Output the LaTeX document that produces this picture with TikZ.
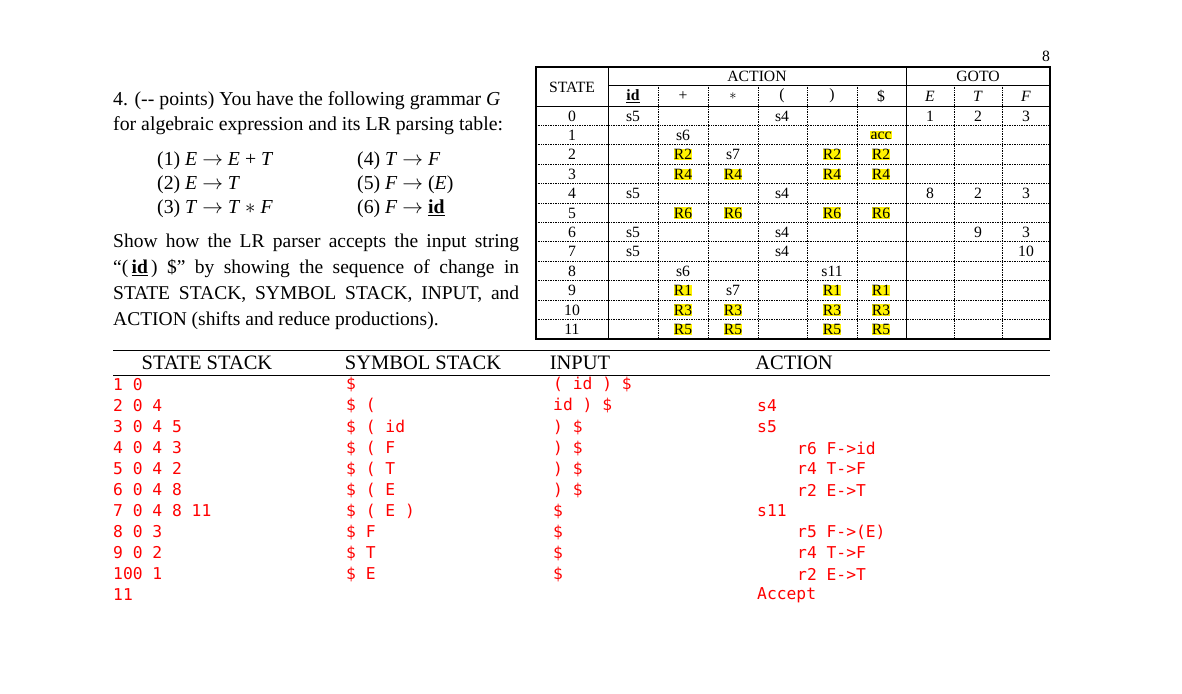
\documentclass[tikz,border=0pt]{standalone}
\usepackage{fontspec}
\setmainfont{Liberation Serif}
\setmonofont{DejaVu Sans Mono}
\begin{document}
\begin{tikzpicture}[x=1pt,y=-1pt,
  tt/.style={font=\fontsize{15.7}{17}\selectfont,inner sep=0.3pt},
  hl/.style={tt,fill=yellow},
  mono/.style={font=\ttfamily\fontsize{16.3}{19}\selectfont,text=red,anchor=west,inner sep=0},
  body/.style={font=\fontsize{19.8}{25}\selectfont,anchor=west,inner sep=0},
  hdr/.style={font=\fontsize{20.5}{22}\selectfont,inner sep=0},
  dl/.style={densely dotted,line width=0.7pt}]
\useasboundingbox (0,0) rectangle (1182,693);
\node[tt] (pg) at (1046,56) {8};
% paragraph
\node[body] (p1) at (113,101) {4. (-{}- points) You have the following grammar \textit{G}};
\node[body] (p2) at (113,126) {for algebraic expression and its LR parsing table:};
\node[body] (g1) at (157,161) {(1) \textit{E} $\rightarrow$ \textit{E} + \textit{T}};
\node[body] (g2) at (157,185) {(2) \textit{E} $\rightarrow$ \textit{T}};
\node[body] (g3) at (157,209) {(3) \textit{T} $\rightarrow$ \textit{T} $*$ \textit{F}};
\node[body] (g4) at (357,161) {(4) \textit{T} $\rightarrow$ \textit{F}};
\node[body] (g5) at (357,185) {(5) \textit{F} $\rightarrow$ (\textit{E})};
\node[body] (g6) at (357,209) {(6) \textit{F} $\rightarrow$ \underline{\textbf{id}}};
\node[body,anchor=north west] (p3) at (113,234) {\parbox{406pt}{\fontsize{19.5}{26}\selectfont Show how the LR parser accepts the input string\linebreak
``(\,\underline{\textbf{id}}\,) \$'' by showing the sequence of change in\linebreak
STATE STACK, SYMBOL STACK, INPUT, and\linebreak
ACTION (shifts and reduce productions).}};
% table
\draw[line width=1.2pt] (536,67) rectangle (1050,339);
\draw[line width=1pt] (608,67) -- (608,339) (906,67) -- (906,339) (536,106) -- (1050,106) (608,85) -- (1050,85);
\foreach \x in {658,708,758,807,857,954,1002} \draw[dl] (\x,85) -- (\x,339);
\foreach \i in {1,...,11} \draw[dl] (536,{106+19.4*\i}) -- (1050,{106+19.4*\i});
\node[tt] (hs) at (572,87) {STATE};
\node[tt] (ha) at (757,76) {ACTION};
\node[tt] (hg) at (978,76) {GOTO};
\node[tt] (h1) at (633,96) {\underline{\textbf{id}}};
\node[tt] (h2) at (683,96) {+};
\node[tt] (h3) at (733,96) {$*$};
\node[tt] (h4) at (782,96) {(};
\node[tt] (h5) at (832,96) {)};
\node[tt] (h6) at (881,96) {\$};
\node[tt] (h7) at (930,96) {\textit{E}};
\node[tt] (h8) at (978,96) {\textit{T}};
\node[tt] (h9) at (1026,96) {\textit{F}};
\foreach \i in {0,...,11} \node[tt] (r\i) at (572,{116+19.4*\i}) {\i};
\foreach \c/\i/\t in {633/0/s5,782/0/s4,930/0/1,978/0/2,1026/0/3,
  683/1/s6,733/2/s7,633/4/s5,782/4/s4,930/4/8,978/4/2,1026/4/3,
  633/6/s5,782/6/s4,978/6/9,1026/6/3,633/7/s5,782/7/s4,1026/7/10,
  683/8/s6,832/8/s11,733/9/s7}
  \node[tt] (c\c-\i) at (\c,{116+19.4*\i}) {\t};
\foreach \c/\i/\t in {881/1/acc,683/2/R2,832/2/R2,881/2/R2,
  683/3/R4,733/3/R4,832/3/R4,881/3/R4,
  683/5/R6,733/5/R6,832/5/R6,881/5/R6,
  683/9/R1,832/9/R1,881/9/R1,
  683/10/R3,733/10/R3,832/10/R3,881/10/R3,
  683/11/R5,733/11/R5,832/11/R5,881/11/R5}
  \node[hl] (h\c-\i) at (\c,{116+19.4*\i}) {\t};
% trace
\draw[line width=0.8pt] (113,350) -- (1050,350);
\draw[line width=0.8pt] (113,375) -- (1050,375);
\node[hdr] (t1) at (207,363) {STATE STACK};
\node[hdr] (t2) at (423,363) {SYMBOL STACK};
\node[hdr] (t3) at (580,363) {INPUT};
\node[hdr] (t4) at (794,363) {ACTION};
\foreach \i/\a/\b/\c in {1/1 0/\$/( id ) \$,2/2 0 4/\$ (/id ) \$,3/3 0 4 5/\$ ( id/) \$,
  4/4 0 4 3/\$ ( F/) \$,5/5 0 4 2/\$ ( T/) \$,6/6 0 4 8/\$ ( E/) \$,
  7/7 0 4 8 11/\$ ( E )/\$,8/8 0 3/\$ F/\$,9/9 0 2/\$ T/\$,10/100 1/\$ E/\$,11/11//}{
  \node[mono] (s\i) at (113,{385+21*(\i-1)}) {\a};
  \node[mono] (y\i) at (346,{385+21*(\i-1)}) {\b};
  \node[mono] (n\i) at (553,{385+21*(\i-1)}) {\c};
}
\node[mono] (a2) at (757,406) {s4};
\node[mono] (a3) at (757,427) {s5};
\node[mono] (a4) at (797,448) {r6 F->id};
\node[mono] (a5) at (797,469) {r4 T->F};
\node[mono] (a6) at (797,490) {r2 E->T};
\node[mono] (a7) at (757,511) {s11};
\node[mono] (a8) at (797,532) {r5 F->(E)};
\node[mono] (a9) at (797,553) {r4 T->F};
\node[mono] (a10) at (797,574) {r2 E->T};
\node[mono] (a11) at (757,595) {Accept};
\end{tikzpicture}
\end{document}
